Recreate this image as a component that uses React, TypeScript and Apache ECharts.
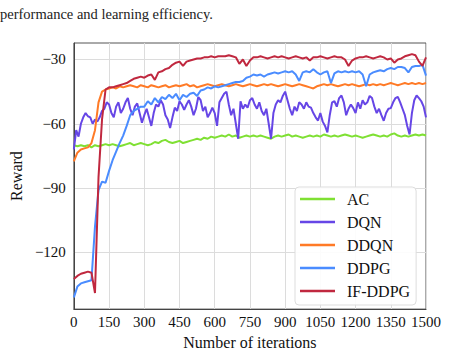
import React, { useEffect, useRef } from "react";
import * as echarts from "echarts";

const STEP = 15;
const DQN_STEP = 10;
const xTicks = [0, 150, 300, 450, 600, 750, 900, 1050, 1200, 1350, 1500];
const yTicks = [-120, -90, -60, -30];
const seriesNames = ["AC", "DQN", "DDQN", "DDPG", "IF-DDPG"];
const colors = ["#7fe033", "#6646e6", "#ff7a26", "#4a8cff", "#c0283f"];

const acValues = [
  -70, -70.5, -70, -70.5, -70, -71, -70, -70.5, -70, -69.5, -70, -69.5, -70, -70.5, -70, -69.5,
  -69, -70, -69.5, -69, -69.5, -70, -69.5, -68.5, -69, -68, -67.5, -68.5, -69, -68.5, -68, -69,
  -68.5, -68, -67.5, -67, -67.5, -66.5, -67, -66, -66.5, -66, -65.5, -66, -65, -66, -65.5, -66.5,
  -66, -65.5, -66, -65.5, -66, -65.5, -66, -66.5, -67, -66, -65.5, -66, -65.5, -65, -66, -65.5,
  -66, -66.5, -66, -65.5, -66, -65.5, -66, -65, -65.5, -66, -65.5, -66, -65.5, -65, -65.5, -66,
  -65.5, -66, -66.5, -66, -65.5, -65, -65.5, -66, -65.5, -66, -65, -64.5, -65.5, -66, -65.5, -66,
  -65.5, -65, -65.5, -65, -65.5,
];

// DQN sampled every 10 iterations
const dqnValues = [
  -72, -63, -66, -60, -57, -55, -56.5, -57, -60, -58, -59, -57, -54, -53, -50, -51,
  -55, -57, -52, -50, -55, -53, -50, -48, -53, -56, -52, -50.5, -55, -59.5, -56, -53,
  -57, -61, -55, -51, -52, -49, -51, -56, -58, -62, -57, -52.5, -54, -49.5, -51, -53.5,
  -51, -49, -52, -56, -53, -47.5, -49, -54, -52, -57, -55, -52.5, -55, -61, -50, -48,
  -46, -45, -51, -56, -53, -60, -67, -49.5, -53, -51, -52.5, -49, -48, -51, -53, -50,
  -54, -56, -53, -60, -67, -55, -51, -49, -50, -47, -45, -49, -53, -56, -52, -54,
  -50, -51, -53, -50, -52, -52.5, -55, -57, -58.5, -55, -59, -61, -64, -56, -50, -49.5,
  -52, -48, -46.8, -50, -56, -53, -51, -52.7, -55, -50, -53, -49, -51, -50, -47, -48,
  -52, -55, -53, -56, -58.6, -55, -53, -52.7, -50, -48, -47.4, -50, -53, -56, -61, -65,
  -55, -49, -46.8, -48, -49.5, -52, -57,
];

const ddqnValues = [
  -77.5, -73.5, -72, -71.5, -71, -69, -63, -50, -45, -44, -43.5, -43, -43.5, -42.5, -43, -42.5,
  -42, -42.5, -43, -42, -42.5, -43, -42, -42.5, -43, -42.5, -42, -43, -42.5, -42, -42.5, -42,
  -41.5, -42.5, -42, -43, -42.5, -42, -41.5, -42, -42.5, -42, -41.5, -42, -42.5, -42, -41.5, -42,
  -42.5, -42, -41.5, -42, -42.5, -42, -41.5, -42, -41.5, -42, -42.5, -42, -41.5, -42, -42.5, -42,
  -41.5, -42, -42.5, -43, -43.5, -42.5, -42, -41.5, -42, -41.5, -42, -42.5, -42, -41.5, -42, -41.5,
  -42, -42.5, -42, -41.5, -42, -41.5, -42, -41.5, -42, -41.5, -41, -41.5, -42, -41.5, -41, -41.5,
  -41, -41.5, -41, -41.5, -41,
];

const ddpgValues = [
  -141, -136, -134.5, -134, -133.5, -133, -108, -91, -87, -87.5, -82, -77, -73, -69, -65.5, -61,
  -56, -54, -53, -52, -52, -49.5, -51, -48, -50, -47.5, -48.5, -46.5, -48, -46, -49, -46.5,
  -47.5, -46, -45.5, -47, -44.5, -44, -43, -43.5, -42.5, -43, -42.5, -42, -41.5, -41, -40.5, -40.5,
  -40, -38.5, -38, -37, -37.5, -37, -38, -37, -36.5, -36, -36.5, -36, -35.5, -36, -35.5, -37,
  -40, -36, -35.5, -36, -34.5, -36, -37, -36, -35.5, -41, -36.5, -35.5, -36, -35.5, -36, -35.5,
  -36, -35.5, -37, -42.5, -37, -36, -35.5, -35, -35.5, -34.5, -34, -34.5, -33.5, -33.5, -34, -36,
  -33.5, -33, -33, -32.5, -37.5,
];

const ifddpgValues = [
  -132.5, -131, -130, -129.5, -129, -129.5, -139, -85, -58, -44, -43, -43, -42.5, -42, -41.5, -41,
  -40, -39, -38.5, -38, -38.5, -37.5, -37, -39.5, -36, -35.5, -34.5, -34, -32.5, -31.5, -31, -33,
  -31, -30.5, -30, -29.5, -29.5, -29, -29, -28.5, -29, -28.5, -28.5, -28.5, -28, -28.5, -29, -32,
  -30, -33, -30.5, -29, -29, -28.5, -29, -29.5, -29, -28.5, -29, -28.5, -29, -29.5, -29, -28.5,
  -29, -29.5, -29, -30.5, -29, -29, -28.5, -29, -29.5, -29, -28.5, -29, -29, -30, -33, -30.5,
  -29.5, -29, -29, -28.5, -29, -29.5, -29, -28.5, -29, -30, -29.5, -31.5, -30, -29.5, -28.5, -28,
  -27.5, -28, -31, -33, -29,
];

const allValues = [acValues, dqnValues, ddqnValues, ddpgValues, ifddpgValues];
const steps = [STEP, DQN_STEP, STEP, STEP, STEP];

const serif = "Liberation Serif, Times New Roman, serif";

function fmtNum(v: number): string {
  return v < 0 ? "\u2212" + Math.abs(v) : String(v);
}

export default function App() {
  const ref = useRef<HTMLDivElement>(null);
  useEffect(() => {
    if (!ref.current) return;
    const chart = echarts.init(ref.current, undefined, { renderer: "svg" });
    const series = seriesNames.map((name, i) => ({
      name,
      type: "line",
      data: allValues[i].map((v, k) => [k * steps[i], v]),
      showSymbol: false,
      symbol: "none",
      lineStyle: { color: colors[i], width: 2 },
      itemStyle: { color: colors[i] },
      z: 2 + i,
    }));
    chart.setOption({
      animation: false,
      backgroundColor: "#ffffff",
      textStyle: { fontFamily: serif },
      graphic: [
        {
          type: "text",
          left: 0,
          top: 6,
          style: {
            text: "performance and learning efficiency.",
            fontFamily: serif,
            fontSize: 14.5,
            fill: "#222",
          },
        },
      ],
      grid: {
        left: 59,
        right: 48,
        top: 43,
        bottom: 39,
        show: true,
        borderColor: "#555",
        borderWidth: 1,
        backgroundColor: "transparent",
      },
      legend: {
        data: seriesNames,
        orient: "vertical",
        left: 295,
        top: 187,
        icon: "rect",
        itemWidth: 35,
        itemHeight: 2.5,
        itemGap: 7,
        padding: [4, 6, 6, 5],
        backgroundColor: "rgba(255,255,255,0.9)",
        borderColor: "#ddd",
        borderWidth: 1,
        borderRadius: 4,
        textStyle: {
          fontFamily: serif,
          fontSize: 16,
          lineHeight: 16,
          color: "#111",
          padding: [0, 0, 0, 7],
        },
      },
      xAxis: {
        type: "value",
        min: 0,
        max: 1500,
        interval: 150,
        name: "Number of iterations",
        nameLocation: "middle",
        nameGap: 22,
        nameTextStyle: { fontFamily: serif, fontSize: 16, color: "#111" },
        axisLine: { show: true, lineStyle: { color: "#444", width: 1 } },
        axisTick: { show: false },
        axisLabel: {
          fontFamily: serif,
          fontSize: 15,
          color: "#111",
          margin: 5,
          formatter: (v: number) => (xTicks.includes(v) ? fmtNum(v) : ""),
        },
        splitLine: { show: true, lineStyle: { color: "#dcdcdc", width: 1 } },
      },
      yAxis: {
        type: "value",
        min: -146.5,
        max: -22.3,
        name: "Reward",
        nameLocation: "middle",
        nameGap: 44,
        nameRotate: 90,
        nameTextStyle: { fontFamily: serif, fontSize: 16, color: "#111" },
        axisLine: { show: true, lineStyle: { color: "#444", width: 1 } },
        axisTick: { show: false, customValues: yTicks },
        axisLabel: {
          fontFamily: serif,
          fontSize: 15,
          color: "#111",
          margin: 8,
          customValues: yTicks,
          formatter: (v: number) => fmtNum(v),
        },
        splitLine: { show: true, lineStyle: { color: "#dcdcdc", width: 1 } },
      },
      series,
    });
    return () => chart.dispose();
  }, []);
  return <div ref={ref} style={{ width: 474, height: 355, position: "absolute", left: 0, top: 0 }} />;
}
